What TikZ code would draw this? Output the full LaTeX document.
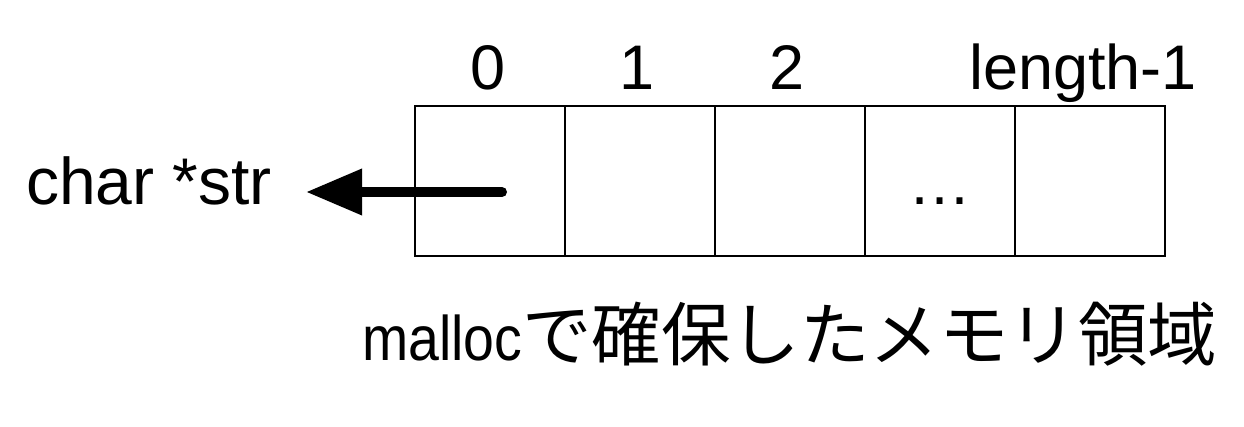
\documentclass[tikz,border=0pt]{standalone}
\usepackage{fontspec}
\setmainfont{Liberation Sans}
\newfontfamily\jfont{Noto Sans CJK JP}
\usetikzlibrary{arrows.meta, positioning, calc}

\begin{document}
\begin{tikzpicture}[x=1pt, y=-1pt,
	cell/.style={draw, line width=2pt, minimum width=150pt, minimum height=150pt, inner sep=0pt},
	lbl/.style={anchor=base, inner sep=0pt, font=\fontsize{63}{70}\selectfont},
	ptrarrow/.style={line width=10pt, line cap=round, -{Triangle[length=56pt, width=44pt]}}]
	\useasboundingbox (0,0) rectangle (1244,427);

	% the memory cells
	\foreach \i in {0,...,4}
		\node[cell] (C\i) at (490+150*\i,181) {};

	% indices
	\node[lbl] (I0) at (488,90) {0};
	\node[lbl] (I1) at (637,90) {1};
	\node[lbl] (I2) at (787,90) {2};
	\node[lbl] (I4) at (1083,90) {length-1};

	\node[lbl] (D) at (940,205) {\ldots};

	\node[lbl, anchor=base west, font=\fontsize{66}{72}\selectfont] (S) at (26,205) {char *str};
	\node[lbl, anchor=base west] (M) at (362,360)
		{\scalebox{0.88}[1]{malloc}{\jfont\fontsize{69.5}{75}\selectfont で確保したメモリ領域}};

	\coordinate (P) at (502,192);
	\coordinate (T) at (306,192);
	\draw[ptrarrow] (P) -- (T);
\end{tikzpicture}
\end{document}
